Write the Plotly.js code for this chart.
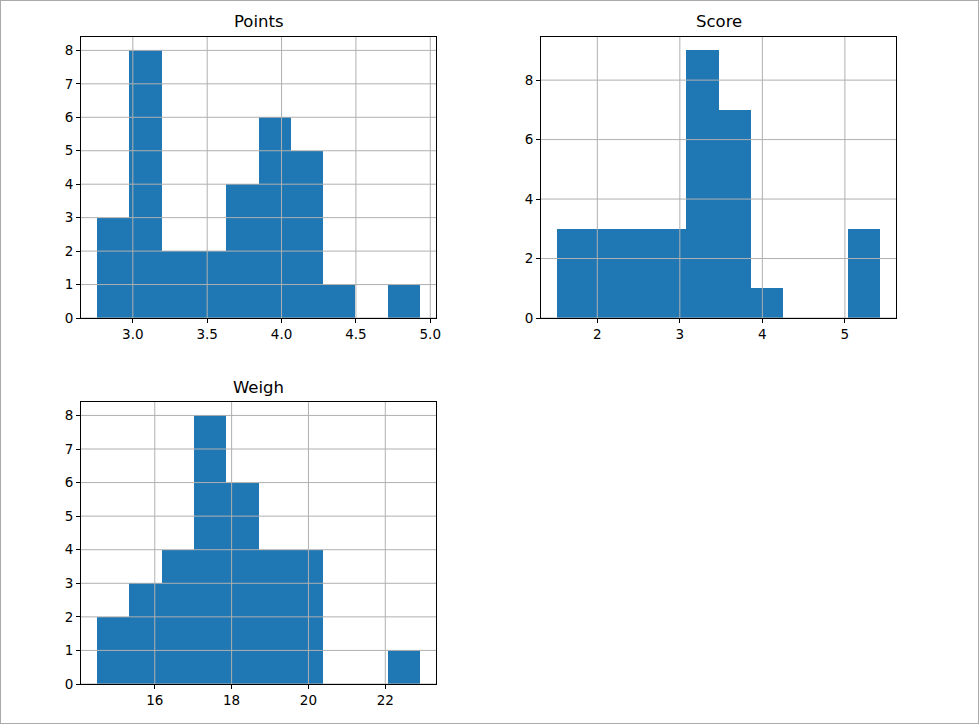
<!DOCTYPE html>
<html>
<head>
<meta charset="utf-8">
<script src="https://cdn.plot.ly/plotly-3.0.1.min.js"></script>
<style>html,body{margin:0;padding:0;background:#fff;}#chart{width:979px;height:724px;}</style>
</head>
<body>
<div id="chart"></div>
<script>
// Histogram data (10 bins each)
const pointsMin = 2.76, pointsMax = 4.93;
const pointsCounts = [3, 8, 2, 2, 4, 6, 5, 1, 0, 1];
const scoreMin = 1.513, scoreMax = 5.424;
const scoreCounts = [3, 3, 3, 3, 9, 7, 1, 0, 0, 3];
const weighMin = 14.5, weighMax = 22.9;
const weighCounts = [2, 3, 4, 8, 6, 4, 4, 0, 0, 1];

const pointsXTicks = [3.0, 3.5, 4.0, 4.5, 5.0];
const pointsXTickText = ['3.0', '3.5', '4.0', '4.5', '5.0'];
const pointsYTicks = [0, 1, 2, 3, 4, 5, 6, 7, 8];
const scoreXTicks = [2, 3, 4, 5];
const scoreYTicks = [0, 2, 4, 6, 8];
const weighXTicks = [16, 18, 20, 22];
const weighYTicks = [0, 1, 2, 3, 4, 5, 6, 7, 8];

const titles = ['Points', 'Score', 'Weigh'];

const BLUE = '#1f77b4';
const GRID = '#b0b0b0';
const FONT = 'DejaVu Sans, sans-serif';

function edges(mn, mx, n) {
  const w = (mx - mn) / n;
  const e = [];
  for (let i = 0; i < n; i++) e.push(mn + i * w);
  return {left: e, width: w};
}

function barTrace(mn, mx, counts, xa, ya) {
  const e = edges(mn, mx, counts.length);
  return {
    type: 'bar', x: e.left, y: counts, width: e.width, offset: 0,
    xaxis: xa, yaxis: ya,
    marker: {color: BLUE, line: {width: 0}},
    hoverinfo: 'x+y', showlegend: false
  };
}

function padRange(mn, mx) {
  const p = (mx - mn) * 0.05;
  return [mn - p, mx + p];
}

const traces = [
  barTrace(pointsMin, pointsMax, pointsCounts, 'x', 'y'),
  barTrace(scoreMin, scoreMax, scoreCounts, 'x2', 'y2'),
  barTrace(weighMin, weighMax, weighCounts, 'x3', 'y3')
];

function axis(domain, range, ticks, ticktext, anchor) {
  const a = {
    domain: domain, range: range, anchor: anchor,
    tickmode: 'array', tickvals: ticks,
    showgrid: false, zeroline: false,
    showline: true, mirror: true, linecolor: '#000', linewidth: 1,
    ticks: 'outside', ticklen: 4, tickwidth: 1, tickcolor: '#000',
    tickfont: {family: FONT, size: 13.5, color: '#000'},
    fixedrange: true
  };
  if (ticktext) a.ticktext = ticktext;
  return a;
}

const xd1 = [81/979, 436/979], xd2 = [541/979, 896/979];
const yd1 = [1 - 318/724, 1 - 37/724], yd3 = [1 - 684/724, 1 - 402/724];

const layout = {
  width: 979, height: 724,
  margin: {l: 0, r: 0, t: 0, b: 0},
  paper_bgcolor: '#fff', plot_bgcolor: '#fff',
  bargap: 0, showlegend: false,
  xaxis: axis(xd1, padRange(pointsMin, pointsMax), pointsXTicks, pointsXTickText, 'y'),
  yaxis: axis(yd1, [0, 8 * 1.05], pointsYTicks, null, 'x'),
  xaxis2: axis(xd2, padRange(scoreMin, scoreMax), scoreXTicks, null, 'y2'),
  yaxis2: axis(yd1, [0, 9 * 1.05], scoreYTicks, null, 'x2'),
  xaxis3: axis(xd1, padRange(weighMin, weighMax), weighXTicks, null, 'y3'),
  yaxis3: axis(yd3, [0, 8 * 1.05], weighYTicks, null, 'x3'),
  annotations: [
    {text: titles[0], xref: 'paper', yref: 'paper', x: (xd1[0] + xd1[1]) / 2, y: 1 - 22/724, xanchor: 'center', yanchor: 'middle', showarrow: false, font: {family: FONT, size: 16.5, color: '#000'}},
    {text: titles[1], xref: 'paper', yref: 'paper', x: (xd2[0] + xd2[1]) / 2, y: 1 - 22/724, xanchor: 'center', yanchor: 'middle', showarrow: false, font: {family: FONT, size: 16.5, color: '#000'}},
    {text: titles[2], xref: 'paper', yref: 'paper', x: (xd1[0] + xd1[1]) / 2, y: 1 - 387/724, xanchor: 'center', yanchor: 'middle', showarrow: false, font: {family: FONT, size: 16.5, color: '#000'}}
  ],
  shapes: []
};

// Grid lines drawn above the bars (as in the reference)
function gridShapes(xr, yr, xt, yt) {
  xt.forEach(v => layout.shapes.push({type: 'line', layer: 'above', xref: xr, yref: yr + ' domain', x0: v, x1: v, y0: 0, y1: 1, line: {color: GRID, width: 1}}));
  yt.forEach(v => layout.shapes.push({type: 'line', layer: 'above', xref: xr + ' domain', yref: yr, x0: 0, x1: 1, y0: v, y1: v, line: {color: GRID, width: 1}}));
}
gridShapes('x', 'y', pointsXTicks, pointsYTicks);
gridShapes('x2', 'y2', scoreXTicks, scoreYTicks);
gridShapes('x3', 'y3', weighXTicks, weighYTicks);

// Outer frame of the image
layout.shapes.push({type: 'rect', xref: 'paper', yref: 'paper', x0: 0, x1: 1, y0: 0, y1: 1, layer: 'above', line: {color: '#aaaaaa', width: 2}});

Plotly.newPlot('chart', traces, layout, {displayModeBar: false, staticPlot: true});
</script>
</body>
</html>
